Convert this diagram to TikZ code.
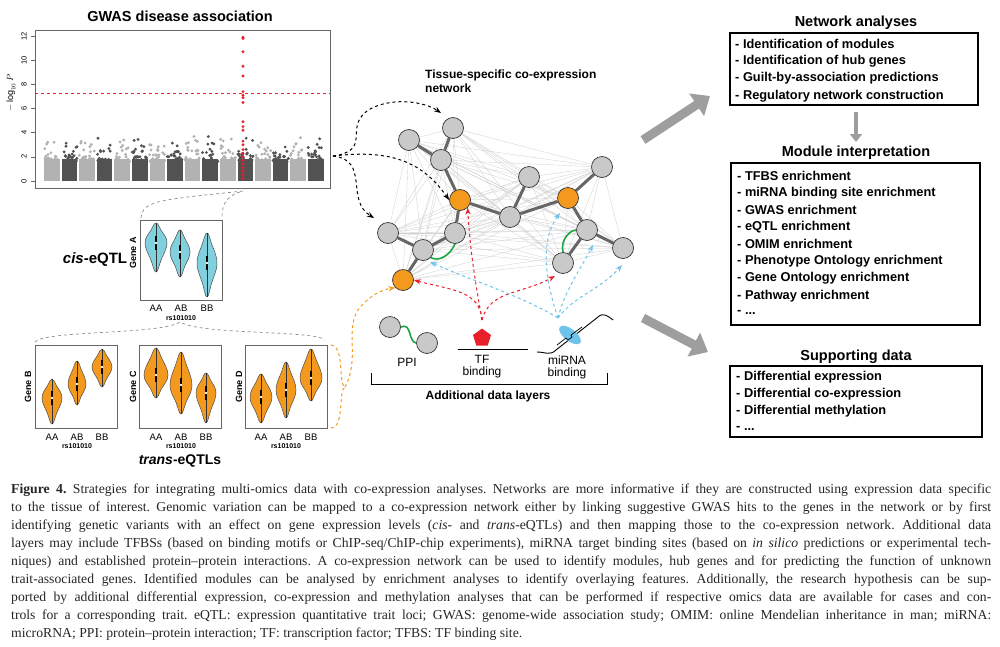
\documentclass[tikz,border=0pt]{standalone}
\usepackage{fontspec}
\setmainfont{Liberation Sans}
\newfontfamily\capfont{Liberation Serif}
\usetikzlibrary{arrows.meta,shapes.geometric,backgrounds}
\definecolor{og}{HTML}{F39A1E}
\definecolor{ng}{HTML}{C9C9C9}
\definecolor{cy}{HTML}{80D0DE}
\definecolor{bl}{HTML}{6EC3EA}
\definecolor{rd}{HTML}{E8202A}
\definecolor{gr}{HTML}{1AA640}
\newcommand\vio[6]{%
 \filldraw[fill=#6,draw=black!70,line width=0.5pt] plot[smooth cycle,tension=0.7] coordinates {(#1,#2) ({#1+0.45*#5},{#2+0.35*(#3-#2)}) ({#1+#5},#3) ({#1+0.45*#5},{#3+0.6*(#4-#3)}) (#1,#4) ({#1-0.45*#5},{#3+0.6*(#4-#3)}) ({#1-#5},#3) ({#1-0.45*#5},{#2+0.35*(#3-#2)})};
 \draw[black!80,line width=0.4pt] (#1,#2)--(#1,#4);
 \draw[black,line width=2.6pt] (#1,{#3-7})--(#1,{#3+7});
 \fill[white] (#1,#3) circle (1.3);}
\newcommand\capline[1]{\makebox[980pt][s]{#1}}
\newcommand\dts{.\kern0pt.\kern0pt.}
\begin{document}
\frenchspacing
\begin{tikzpicture}[x=1pt,y=-1pt,
 nd/.style={circle,draw=black!80,line width=0.7pt,fill=ng,minimum size=21pt,inner sep=0pt},
 on/.style={nd,fill=og},
 thick edge/.style={line width=3pt,draw=black!60},
 thin edge/.style={line width=0.35pt,draw=black!18},
 box/.style={draw=black,line width=1.4pt},
 item/.style={anchor=west,font=\fontsize{12.8}{14}\selectfont\bfseries,inner sep=0pt},
 ttl/.style={font=\fontsize{14.5}{16}\selectfont\bfseries},
 vbox/.style={draw=black!60,line width=0.7pt},
 tick/.style={font=\fontsize{9.5}{10}\selectfont},
 rs/.style={font=\fontsize{7}{8}\selectfont\bfseries},
 gl/.style={font=\fontsize{9}{10}\selectfont\bfseries,rotate=90},
 bigarr/.style={line width=9pt,draw=black!38,-{Triangle[length=16pt,width=26pt]}},
 blk/.style={dashed,line width=1pt,-{Stealth[length=7pt]}},
]
\useasboundingbox (0,0) rectangle (1000,646);
% ---------- GWAS ----------
\node[ttl] (gt) at (180,16) {GWAS disease association};
\draw[black!60,line width=0.6pt] (35,30) rectangle (330,188);
\foreach \v in {0,2,...,12}{
 \draw[black!60] (35,{181-\v*12.08})--(31,{181-\v*12.08});
 \node[tick,rotate=90,font=\fontsize{7.5}{8}\selectfont] at (24,{181-\v*12.08}) {\v};}
\node[rotate=90,font=\fontsize{9}{10}\selectfont] at (11,93) {$-\log_{10}P$};
\pgfmathsetseed{7}
\foreach \i in {0,...,15}{
 \pgfmathsetmacro\xa{44+\i*17.6}
 \pgfmathtruncatemacro\odd{mod(\i,2)}
 \ifnum\odd=0 \def\cc{black!30}\else\def\cc{black!68}\fi
 \fill[\cc] (\xa,181) rectangle ({\xa+15.5},{181-1.8*12.08});
 \foreach \k in {1,...,22}{
  \fill[\cc] ({\xa+rnd*15.5},{181-(1.6+rnd*rnd*2.2)*12.08}) circle (1.6);}
}
\foreach \v in {0.2,0.5,0.8,1.1,1.4,1.7,2.0,2.3,2.6,3.0,3.3,4.2,4.5,4.9,6.5,6.9,7.1,7.4,8.7,9.5,10.7,11.8,11.9}
 \fill[rd] (243,{181-\v*12.08}) circle (1.6);
\draw[rd,dashed,line width=0.8pt] (35,93)--(330,93);
% ---------- eQTL ----------
\draw[black!45,dashed,line width=0.7pt] (141,218) .. controls (143,200) and (160,200) .. (243,191) .. controls (225,196) and (222,205) .. (222,218);
\draw[vbox] (140,220) rectangle (222,300);
\vio{156}{223}{243}{272}{11}{cy}
\vio{180}{230}{252}{277}{10}{cy}
\vio{207}{233}{263}{297}{10}{cy}
\node[gl] (ga) at (133,253) {Gene A};
\node[tick] at (156,308) {AA}; \node[tick] at (181,308) {AB}; \node[tick] at (207,308) {BB};
\node[rs] at (181,318) {rs101010};
\node[font=\fontsize{15}{16}\selectfont\bfseries] (cis) at (95,260) {\textit{cis}-eQTL};
\draw[black!45,dashed,line width=0.7pt] (35,342) .. controls (45,330) and (160,335) .. (180,322) .. controls (200,335) and (315,330) .. (325,340);
\foreach \xa in {35,139,245}{\draw[vbox] (\xa,345) rectangle ({\xa+82},428);}
\node[gl] at (28,387) {Gene B}; \node[gl] at (133,387) {Gene C}; \node[gl] at (239,387) {Gene D};
\vio{52}{379}{398}{424}{10}{og}\vio{77}{361}{384}{405}{9}{og}\vio{102}{349}{367}{387}{10}{og}
\vio{156}{348}{375}{398}{12}{og}\vio{181}{352}{385}{414}{11}{og}\vio{206}{373}{393}{423}{10}{og}
\vio{261}{374}{397}{423}{11}{og}\vio{286}{362}{390}{418}{10}{og}\vio{311}{349}{378}{401}{11}{og}
\foreach \xa in {52,156,261}{
 \node[tick] at (\xa,437) {AA}; \node[tick] at ({\xa+25},437) {AB}; \node[tick] at ({\xa+50},437) {BB};
 \node[rs] at ({\xa+25},446) {rs101010};}
\node[font=\fontsize{14}{16}\selectfont\bfseries] (tr) at (180,461) {\textit{trans}-eQTLs};
\draw[og,dashed,line width=1pt] (331,345) .. controls (345,346) and (338,385) .. (345,387) .. controls (338,390) and (345,427) .. (331,428);
% ---------- network ----------
\node[font=\fontsize{12}{14}\selectfont\bfseries,anchor=north west,align=left,inner sep=0pt] (nt) at (425,70) {Tissue-specific co-expression\\network};
\node[nd] (n1) at (453,128) {};
\node[nd] (n2) at (409,140) {};
\node[nd] (n3) at (441,160) {};
\node[on] (n4) at (460,200) {};
\node[nd] (n5) at (529,177) {};
\node[nd] (n6) at (602,167) {};
\node[on] (n7) at (568,198) {};
\node[nd] (n8) at (510,217) {};
\node[nd] (n9) at (388,233) {};
\node[nd] (n10) at (455,233) {};
\node[nd] (n11) at (423,250) {};
\node[nd] (n12) at (587,230) {};
\node[nd] (n13) at (623,248) {};
\node[nd] (n14) at (563,263) {};
\node[on] (n15) at (403,280) {};
\begin{pgfonlayer}{background}
\foreach \i in {1,...,15}{\foreach \j in {\i,...,15}{\ifnum\j>\i \draw[thin edge] (n\i)--(n\j);\fi}}
\foreach \a/\b in {n1/n3,n2/n3,n3/n4,n4/n10,n4/n8,n8/n5,n8/n7,n7/n6,n7/n12,n12/n13,n12/n14,n10/n11,n9/n11,n11/n15}
 \draw[thick edge] (\a)--(\b);
\end{pgfonlayer}
\draw[gr,line width=1.6pt] (n11.south east) .. controls (440,262) and (450,255) .. (n10.south);
\draw[gr,line width=1.6pt] (n12.west) .. controls (570,230) and (560,240) .. (n14.north);
% ---------- data layers ----------
\node[nd] (p1) at (390,327) {};
\node[nd] (p2) at (427,343) {};
\draw[gr,line width=1.6pt] (p1.east) .. controls (412,322) and (408,342) .. (p2.west);
\node[regular polygon,regular polygon sides=5,fill=rd,minimum size=19pt,inner sep=0pt] (tf) at (482,338) {};
\draw[line width=0.9pt] (458,349)--(528,349);
\coordinate (ms) at (537,352);
\coordinate (me) at (613,320);
\draw[line width=0.9pt] (ms) .. controls (545,352) and (550,356) .. (556,350) -- (598,317) .. controls (603,312) and (608,316) .. (me);
\fill[bl] (570,335) ellipse [x radius=13,y radius=6,rotate=-38];
\draw[line width=0.7pt] (557,345)--(566,338)--(568,340)--(572,337)--(571,335)--(582,327);
\node[font=\fontsize{12}{13}\selectfont] (ppi) at (407,362) {PPI};
\node[font=\fontsize{12}{12}\selectfont,align=center] (tfl) at (482,367) {TF\\binding};
\node[font=\fontsize{12}{12}\selectfont,align=center] (mil) at (567,367) {miRNA\\binding};
\draw[line width=0.9pt] (371,373)--(371,384)--(607,384)--(607,373);
\node[font=\fontsize{12}{14}\selectfont\bfseries] (adl) at (488,396) {Additional data layers};
% ---------- arrows into network ----------
\coordinate (gs) at (333,156);
\draw[blk] (gs) .. controls (375,150) and (340,125) .. (372,108) .. controls (395,97) and (425,102) .. (441,113);
\draw[blk] (gs) .. controls (385,150) and (420,158) .. (n4.west);
\draw[blk] (gs) .. controls (370,160) and (345,200) .. (374,218);
\coordinate (ro) at (482,320);
\draw[rd,blk] (ro) .. controls (475,280) and (470,250) .. (n4.south east);
\draw[rd,blk] (ro) .. controls (480,290) and (450,290) .. (n15.east);
\draw[rd,blk] (ro) .. controls (490,290) and (520,295) .. (555,276);
\coordinate (bo) at (558,318);
\draw[bl,blk] (bo) .. controls (520,295) and (470,280) .. (430,262);
\draw[bl,blk] (bo) .. controls (545,280) and (540,240) .. (560,213);
\draw[bl,blk] (bo) .. controls (565,290) and (580,270) .. (593,245);
\draw[bl,blk] (bo) .. controls (575,295) and (600,290) .. (622,265);
\draw[og,blk] (345,387) .. controls (360,360) and (345,330) .. (358,310) .. controls (368,297) and (380,290) .. (n15.south west);
% ---------- right side ----------
\coordinate (a1s) at (643,140); \coordinate (a1e) at (710,96);
\draw[bigarr] (a1s)--(a1e);
\coordinate (a2s) at (643,318); \coordinate (a2e) at (708,352);
\draw[bigarr] (a2s)--(a2e);
\node[ttl] (t1) at (856,23) {Network analyses};
\draw[box] (730,33) rectangle (978,105);
\foreach \t [count=\c from 0] in {- Identification of modules,- Identification of hub genes,- Guilt-by-association predictions,- Regulatory network construction}
 \node[item] at (735,{44+\c*17.3}) {\t};
\coordinate (da) at (856,112); \coordinate (db) at (856,142);
\draw[line width=4pt,draw=black!38,-{Triangle[length=8pt,width=12pt]}] (da)--(db);
\node[ttl] (t2) at (856,153) {Module interpretation};
\draw[box] (731,163) rectangle (980,325);
\foreach \t [count=\c from 0] in {- TFBS enrichment,- miRNA binding site enrichment,- GWAS enrichment,- eQTL enrichment,- OMIM enrichment,- Phenotype Ontology enrichment,- Gene Ontology enrichment,- Pathway enrichment,- \dts}
 \node[item] at (737,{176+\c*17.1}) {\t};
\node[ttl] (t3) at (856,357) {Supporting data};
\draw[box] (730,366) rectangle (982,437);
\foreach \t [count=\c from 0] in {- Differential expression,- Differential co-expression,- Differential methylation,- \dts}
 \node[item] at (736,{377+\c*17.3}) {\t};
% ---------- caption ----------
\begin{scope}[every node/.style={anchor=west,inner sep=0pt,font=\capfont\fontsize{13.7}{14}\selectfont,text=black!85}]
\node (c1) at (11,490) {\capline{\textbf{Figure 4.} Strategies for integrating multi-omics data with co-expression analyses. Networks are more informative if they are constructed using expression data specific}};
\node (c2) at (11,508) {\capline{to the tissue of interest. Genomic variation can be mapped to a co-expression network either by linking suggestive GWAS hits to the genes in the network or by first}};
\node (c3) at (11,526) {\capline{identifying genetic variants with an effect on gene expression levels (\textit{cis}- and \textit{trans}-eQTLs) and then mapping those to the co-expression network. Additional data}};
\node (c4) at (11,544) {\capline{layers may include TFBSs (based on binding motifs or ChIP-seq/ChIP-chip experiments), miRNA target binding sites (based on \textit{in silico} predictions or experimental tech-}};
\node (c5) at (11,562) {\capline{niques) and established protein–protein interactions. A co-expression network can be used to identify modules, hub genes and for predicting the function of unknown}};
\node (c6) at (11,580) {\capline{trait-associated genes. Identified modules can be analysed by enrichment analyses to identify overlaying features. Additionally, the research hypothesis can be sup-}};
\node (c7) at (11,598) {\capline{ported by additional differential expression, co-expression and methylation analyses that can be performed if respective omics data are available for cases and con-}};
\node (c8) at (11,616) {\capline{trols for a corresponding trait. eQTL: expression quantitative trait loci; GWAS: genome-wide association study; OMIM: online Mendelian inheritance in man; miRNA:}};
\node (c9) at (11,634) {microRNA; PPI: protein–protein interaction; TF: transcription factor; TFBS: TF binding site.};
\end{scope}
\end{tikzpicture}
\end{document}
